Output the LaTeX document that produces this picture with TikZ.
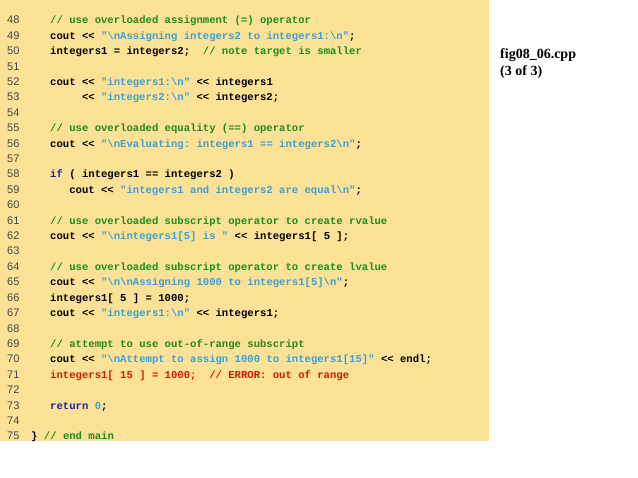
\documentclass[tikz,border=0pt]{standalone}
\usepackage{fontspec}
\setmainfont{Liberation Serif}
\setmonofont{Liberation Mono}
\newfontfamily\numfont{Liberation Sans}
\definecolor{bgy}{RGB}{252,226,150}
\definecolor{cmt}{RGB}{30,140,30}
\definecolor{str}{RGB}{60,160,215}
\definecolor{kw}{RGB}{30,30,170}
\definecolor{err}{RGB}{200,30,10}
\definecolor{lnum}{RGB}{70,70,70}
\newcommand{\Cm}[1]{\textcolor{cmt}{#1}}
\newcommand{\Str}[1]{\textcolor{str}{#1}}
\newcommand{\Kw}[1]{\textcolor{kw}{#1}}
\newcommand{\bs}{\textbackslash}
\begin{document}
\begin{tikzpicture}[x=1bp,y=-1bp,
  code/.style={anchor=base west,inner sep=0pt,font=\fontsize{10.6bp}{12bp}\ttfamily\bfseries},
  num/.style={anchor=base west,inner sep=0pt,text=lnum,font=\fontsize{11bp}{12bp}\numfont}]
\useasboundingbox (0,0) rectangle (638,478);
\fill[bgy] (0,0) rectangle (489,441);
\def\cw{6.35}
\foreach \n [count=\i from 0] in {48,...,75}
  \node[num] (n\n) at (7,{24+\i*15.4}) {\n};
\newcommand{\Ln}[3]{\node[code] (c#1) at ({31+#2*\cw},{24+(#1-48)*15.4}) {#3};}
\Ln{48}{3}{\Cm{// use overloaded assignment (=) operator}}
\Ln{49}{3}{cout << \Str{"\bs nAssigning integers2 to integers1:\bs n"};}
\Ln{50}{3}{integers1 = integers2;~~\Cm{// note target is smaller}}
\Ln{52}{3}{cout << \Str{"integers1:\bs n"} << integers1}
\Ln{53}{8}{<< \Str{"integers2:\bs n"} << integers2;}
\Ln{55}{3}{\Cm{// use overloaded equality (==) operator}}
\Ln{56}{3}{cout << \Str{"\bs nEvaluating: integers1 == integers2\bs n"};}
\Ln{58}{3}{\Kw{if} ( integers1 == integers2 )}
\Ln{59}{6}{cout << \Str{"integers1 and integers2 are equal\bs n"};}
\Ln{61}{3}{\Cm{// use overloaded subscript operator to create rvalue}}
\Ln{62}{3}{cout << \Str{"\bs nintegers1[5] is "} << integers1[ 5 ];}
\Ln{64}{3}{\Cm{// use overloaded subscript operator to create lvalue}}
\Ln{65}{3}{cout << \Str{"\bs n\bs nAssigning 1000 to integers1[5]\bs n"};}
\Ln{66}{3}{integers1[ 5 ] = 1000;}
\Ln{67}{3}{cout << \Str{"integers1:\bs n"} << integers1;}
\Ln{69}{3}{\Cm{// attempt to use out-of-range subscript}}
\Ln{70}{3}{cout << \Str{"\bs nAttempt to assign 1000 to integers1[15]"} << endl;}
\Ln{71}{3}{\textcolor{err}{integers1[ 15 ] = 1000;~~// ERROR: out of range}}
\Ln{73}{3}{\Kw{return} \Str{0};}
\Ln{75}{0}{\} \Cm{// end main}}
\node[anchor=base west,inner sep=0pt,font=\fontsize{14bp}{17bp}\selectfont\bfseries,align=left] (fig) at (500,76) {fig08\_06.cpp\\(3 of 3)};
\end{tikzpicture}
\end{document}
